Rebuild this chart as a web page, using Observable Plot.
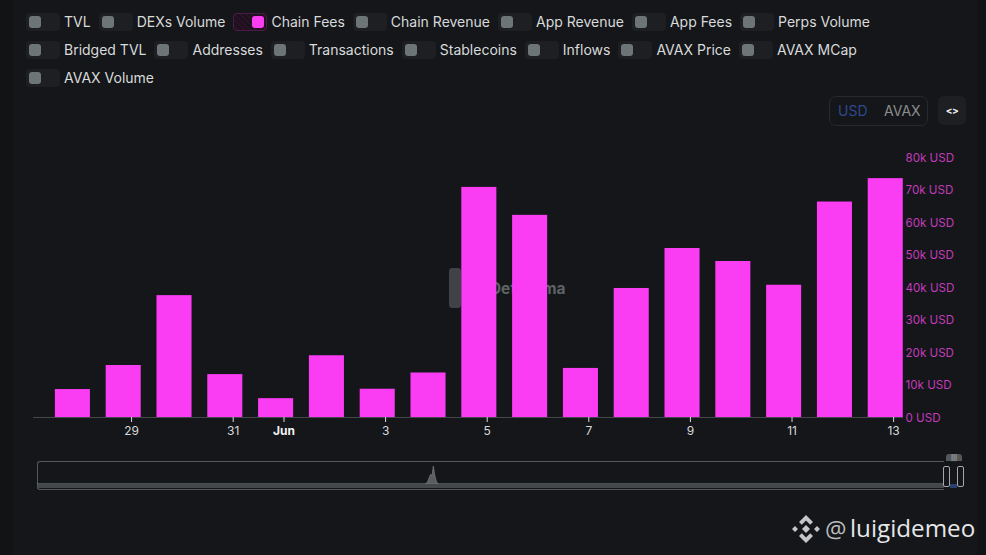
<!DOCTYPE html>
<html>
<head>
<meta charset="utf-8">
<script src="https://cdn.jsdelivr.net/npm/d3@7"></script>
<script src="https://cdn.jsdelivr.net/npm/@observablehq/plot@0.6"></script>
<style>
html,body{margin:0;padding:0;background:#141619;}
body{width:986px;height:555px;position:relative;overflow:hidden;font-family:Inter,sans-serif;}
.abs{position:absolute;}
#legend{left:26px;top:13px;width:880px;display:flex;flex-wrap:wrap;column-gap:8px;row-gap:10px;font-size:14px;line-height:18px;color:#d9dadb;}
.item{display:flex;align-items:center;gap:4px;}
.tog{width:34px;height:18px;box-sizing:border-box;background:#1d1f22;border-radius:4px;position:relative;}
.tog i{position:absolute;left:3px;top:3px;width:12px;height:12px;border-radius:3px;background:#6d7576;}
.tog.on{background:repeating-linear-gradient(45deg,#2a1029,#2a1029 2px,#1a1119 2px,#1a1119 4px);outline:1px solid #4d1b4b;outline-offset:-1px;}
.tog.on i{left:19px;background:#fa3cf3;}
#unit{left:829px;top:96px;width:99px;height:30px;box-sizing:border-box;border:1px solid #26292d;border-radius:7px;font-size:14px;line-height:28px;}
#unit span{position:absolute;top:0;}
#code{left:938px;top:96px;width:28px;height:29px;background:#1d1f22;border-radius:6px;color:#eee;font-size:10px;font-weight:700;line-height:28px;text-align:center;letter-spacing:-.5px;}
#wm{left:449px;top:268px;width:116px;height:40px;color:#5f6265;font-weight:700;font-size:15.4px;line-height:42px;}
#wm b{position:absolute;left:0;top:0;width:12px;height:40px;background:#3f4246;border-radius:3px;}
#wm span{position:absolute;left:41px;top:0;white-space:nowrap;}
#frame{left:37px;top:461px;width:907px;height:29px;box-sizing:border-box;border:1.5px solid #55585a;border-right:0;border-radius:3px 0 0 3px;}
#band{left:38px;top:484px;width:906px;height:4px;background:#45484b;}
.handle{top:466px;width:5px;height:19px;border:1px solid #a5a8aa;border-radius:2px;background:#141619;}
#tab{left:946px;top:454px;width:16px;height:7px;background:#55585a;border-radius:3px 3px 0 0;color:#ddd;font-size:6px;line-height:7px;text-align:center;}
#sel{left:950px;top:484px;width:7px;height:4px;background:#2a3f6e;}
#brand{left:792px;top:514px;width:186px;height:32px;color:#e6e7e8;}
#brand svg{position:absolute;left:0;top:1px;}
#brand .at{position:absolute;left:33px;top:-2px;font:24px/34px "Open Sans",sans-serif;color:#b9bbbd;}
#brand .name{position:absolute;left:58px;top:-3px;font:24.2px/34px "Open Sans",sans-serif;}
#edgeL{left:0;top:0;width:13px;height:555px;background:#111315;}
#edgeR{left:977px;top:0;width:9px;height:555px;background:#111315;}
</style>
</head>
<body>
<div id="edgeL" class="abs"></div>
<div id="edgeR" class="abs"></div>
<div id="legend" class="abs"></div>
<div id="unit" class="abs"><span style="left:8px;color:#30498c">USD</span><span style="left:54px;color:#8b8c8e">AVAX</span></div>
<div id="code" class="abs">&lt;&gt;</div>
<div id="wm" class="abs"><b></b><span>DefiLlama</span></div>
<div id="chart" class="abs" style="left:0;top:140px"></div>
<div id="frame" class="abs"></div>
<div id="band" class="abs"></div>
<div id="overview" class="abs" style="left:37px;top:466px"></div>
<div id="sel" class="abs"></div>
<div class="abs handle" style="left:943px"></div>
<div class="abs handle" style="left:957px"></div>
<div id="tab" class="abs">|||</div>
<div id="brand" class="abs">
<svg width="28" height="28" viewBox="0 0 28 28" fill="#c4c6c8">
<path d="M14 0l7 7-2.8 2.8L14 5.6 9.8 9.8 7 7z"/>
<path d="M14 28l7-7-2.8-2.8L14 22.4l-4.2-4.2L7 21z"/>
<path d="M0 14l3-3 3 3-3 3zM22 14l3-3 3 3-3 3z"/>
<path d="M14 10l4 4-4 4-4-4z"/>
</svg>
<span class="at">@</span><span class="name">luigidemeo</span>
</div>
<script>
const legendNames = ["TVL","DEXs Volume","Chain Fees","Chain Revenue","App Revenue","App Fees","Perps Volume","Bridged TVL","Addresses","Transactions","Stablecoins","Inflows","AVAX Price","AVAX MCap","AVAX Volume"];
const activeMetric = "Chain Fees";
const days = ["2025-05-28","2025-05-29","2025-05-30","2025-05-31","2025-06-01","2025-06-02","2025-06-03","2025-06-04","2025-06-05","2025-06-06","2025-06-07","2025-06-08","2025-06-09","2025-06-10","2025-06-11","2025-06-12","2025-06-13"];
const fees = [8600,16000,37500,13200,5800,19000,8700,13700,70800,62200,15100,39700,52000,48000,40700,66300,73500];
const plainTicks = ["2025-05-29","2025-05-31","2025-06-03","2025-06-05","2025-06-07","2025-06-09","2025-06-11","2025-06-13"];
const monthTicks = ["2025-06-01"];
const usdTicks = [0,10000,20000,30000,40000,50000,60000,70000,80000];
const domainDays = ["2025-05-27T01:40Z","2025-06-13T04:40Z"];
const overviewPos = [0,42.7,43,43.2,43.4,43.55,43.7,43.85,44,44.2,100];
const overviewVal = [0,0,.06,.3,.55,.45,1,.5,.2,0,0];

const legend = document.getElementById("legend");
for (const n of legendNames) {
  const it = document.createElement("div"); it.className = "item";
  const t = document.createElement("div"); t.className = "tog" + (n === activeMetric ? " on" : "");
  t.appendChild(document.createElement("i"));
  const s = document.createElement("span"); s.textContent = n;
  it.append(t, s); legend.appendChild(it);
}

const toDate = s => new Date(s.length === 10 ? s + "T00:00Z" : s);
const rows = days.map((d,i) => ({d: toDate(d), v: fees[i]}));
const pink = "#fa3cf3";

const chart = Plot.plot({
  width: 986, height: 300,
  marginTop: 17, marginBottom: 23, marginLeft: 33, marginRight: 83,
  style: {background: "transparent", fontFamily: "Inter, sans-serif", fontSize: "12px"},
  x: {type: "utc", domain: domainDays.map(toDate)},
  y: {domain: [0, 80000]},
  marks: [
    Plot.rectY(rows, {
      x1: r => d3.utcHour.offset(r.d, -12),
      x2: r => d3.utcHour.offset(r.d, 12),
      y1: 0, y2: "v", fill: pink, insetRight: 15.75
    }),
    Plot.ruleY([0], {stroke: "#45484b"}),
    Plot.axisX({ticks: plainTicks.map(toDate), tickFormat: d3.utcFormat("%-d"), tickSize: 5, tickPadding: 4, stroke: "#d8d9da", fill: "#d8d9da", fontVariant: "normal", label: null}),
    Plot.axisX({ticks: monthTicks.map(toDate), tickFormat: d3.utcFormat("%b"), tickSize: 5, tickPadding: 4, stroke: "#d8d9da", fill: "#f2f2f2", fontWeight: 700, fontVariant: "normal", label: null}),
    Plot.axisY({anchor: "right", ticks: usdTicks, tickSize: 0, tickPadding: 2, textAnchor: "start", fill: "#c43bbd", fontVariant: "normal", fontSize: 11.6, dy: 0.5,
      tickFormat: v => v === 0 ? "0 USD" : `${v/1000}k USD`, label: null})
  ]
});
document.getElementById("chart").appendChild(chart);

const overview = Plot.plot({
  width: 907, height: 18, margin: 0,
  style: {background: "transparent"},
  x: {domain: [0,100], axis: null},
  y: {domain: [0,1], axis: null},
  marks: [
    Plot.areaY(overviewPos.map((p,i)=>({p, v: overviewVal[i]})), {x: "p", y: "v", fill: "#5a5d60", stroke: "#85888a", strokeWidth: .6})
  ]
});
document.getElementById("overview").appendChild(overview);
</script>
</body>
</html>
